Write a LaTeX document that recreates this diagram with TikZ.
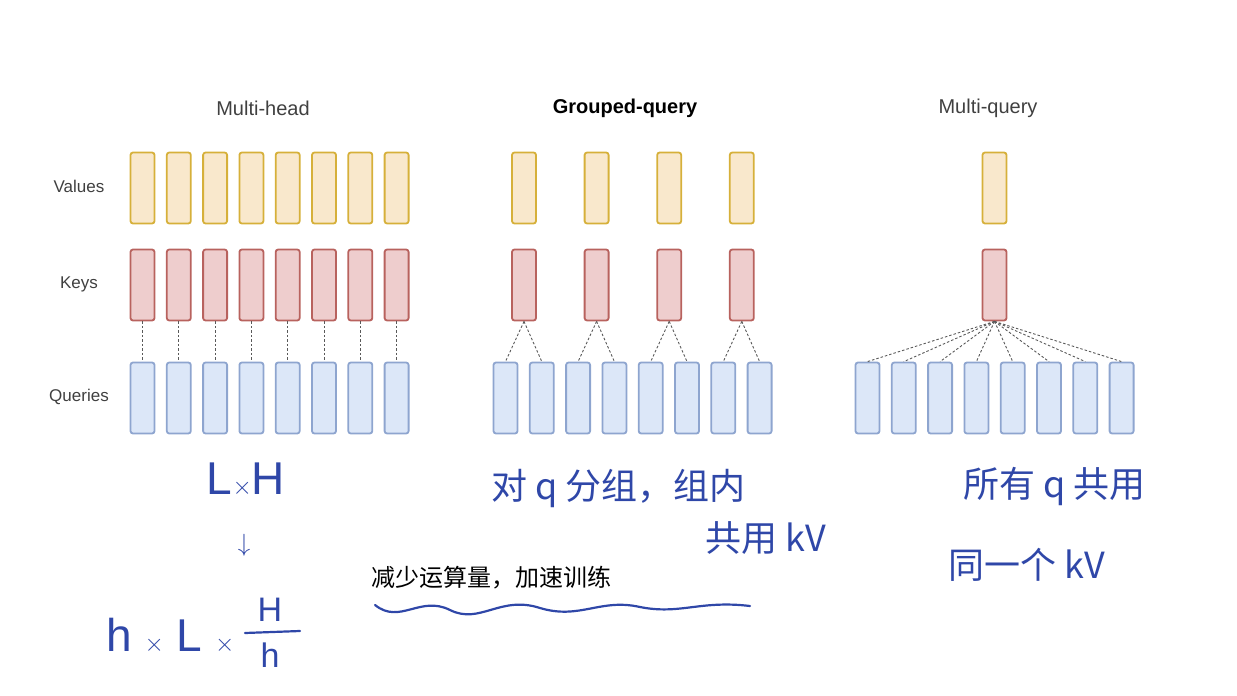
\documentclass[tikz,border=0pt]{standalone}
\usepackage{fontspec}
\setmainfont{Liberation Sans}
\newfontfamily\cjk{Noto Sans CJK SC}
\definecolor{vfill}{HTML}{F9E8CC}\definecolor{vdraw}{HTML}{D6B03A}
\definecolor{kfill}{HTML}{EECDCD}\definecolor{kdraw}{HTML}{B8625E}
\definecolor{qfill}{HTML}{DCE7F8}\definecolor{qdraw}{HTML}{8EA5CF}
\definecolor{ink}{HTML}{2F47A8}
\begin{document}
\begin{tikzpicture}[x=1pt,y=-1pt,
 bar/.style={rounded corners=2.5pt,line width=1.8pt,minimum width=24pt,minimum height=71pt,inner sep=0pt},
 vbar/.style={bar,fill=vfill,draw=vdraw},
 kbar/.style={bar,fill=kfill,draw=kdraw},
 qbar/.style={bar,fill=qfill,draw=qdraw},
 lnk/.style={draw=gray!70!black,line width=0.9pt,dash pattern=on 2.5pt off 2pt},
 lbl/.style={font=\fontsize{17}{20}\selectfont,text=black!75},
 ttl/.style={font=\fontsize{20}{24}\selectfont,text=black!75},
 hw/.style={text=ink,font=\cjk\fontsize{36}{40}\selectfont},
 hwl/.style={text=ink,font=\fontsize{46}{50}\selectfont}]
\useasboundingbox (0,0) rectangle (1237,696);
% labels
\node[ttl] (tmh) at (263,108) {Multi-head};
\node[ttl,font=\bfseries\fontsize{20}{24}\selectfont,text=black] (tgq) at (625,108) {Grouped-query};
\node[ttl] (tmq) at (988,108) {Multi-query};
\node[lbl] (lv) at (79,186) {Values};
\node[lbl] (lk) at (79,284) {Keys};
\node[lbl] (lq) at (79,397) {Queries};
% multi-head
\foreach \i in {0,...,7}{
 \node[vbar] (mv\i) at (142.5+36.3*\i,188) {};
 \node[kbar] (mk\i) at (142.5+36.3*\i,285) {};
 \node[qbar] (mq\i) at (142.5+36.3*\i,398) {};
 \draw[lnk] (mk\i.south) -- (mq\i.north);}
% grouped
\foreach \i in {0,...,3}{
 \node[vbar] (gv\i) at (524+72.6*\i,188) {};
 \node[kbar] (gk\i) at (524+72.6*\i,285) {};}
\foreach \i in {0,...,7}{
 \node[qbar] (gq\i) at (505.5+36.3*\i,398) {};
 \pgfmathtruncatemacro\g{int(\i/2)}
 \draw[lnk] (gk\g.south) -- (gq\i.north);}
% multi-query
\node[vbar] (qv) at (994.5,188) {};
\node[kbar] (qk) at (994.5,285) {};
\foreach \i in {0,...,7}{
 \node[qbar] (qq\i) at (867.5+36.3*\i,398) {};
 \draw[lnk] (qk.south) -- (qq\i.north);}
% annotations
\node[hwl] (a1) at (246,480) {L$\times$H};
\node[hw,font=\fontsize{36}{40}\selectfont] (a2) at (244,545) {$\downarrow$};
\node[hwl,anchor=east] (a3) at (238,636) {h $\times$ L $\times$};
\node[hwl,font=\fontsize{34}{36}\selectfont] (a3n) at (270,610) {H};
\node[hwl,font=\fontsize{34}{36}\selectfont] (a3d) at (270,655) {h};
\draw[ink,line width=2.2pt,line cap=round] (245,633) -- (300,631);
\node[hw,anchor=west] (a4) at (488,488) {对 q 分组，组内};
\node[hw,anchor=west] (a5) at (702,538) {共用 kV};
\node[hw,anchor=west] (a6) at (960,486) {所有 q 共用};
\node[hw,anchor=west] (a7) at (945,565) {同一个 kV};
\node[anchor=west,font=\cjk\fontsize{24}{28}\selectfont] (a8) at (368,578) {减少运算量，加速训练};
\draw[ink,line width=2.2pt,line cap=round] (375,605) .. controls (400,625) and (420,595) .. (450,610) .. controls (480,625) and (500,595) .. (540,608) .. controls (580,620) and (600,598) .. (640,607) .. controls (680,615) and (700,600) .. (750,606);
\end{tikzpicture}
\end{document}
